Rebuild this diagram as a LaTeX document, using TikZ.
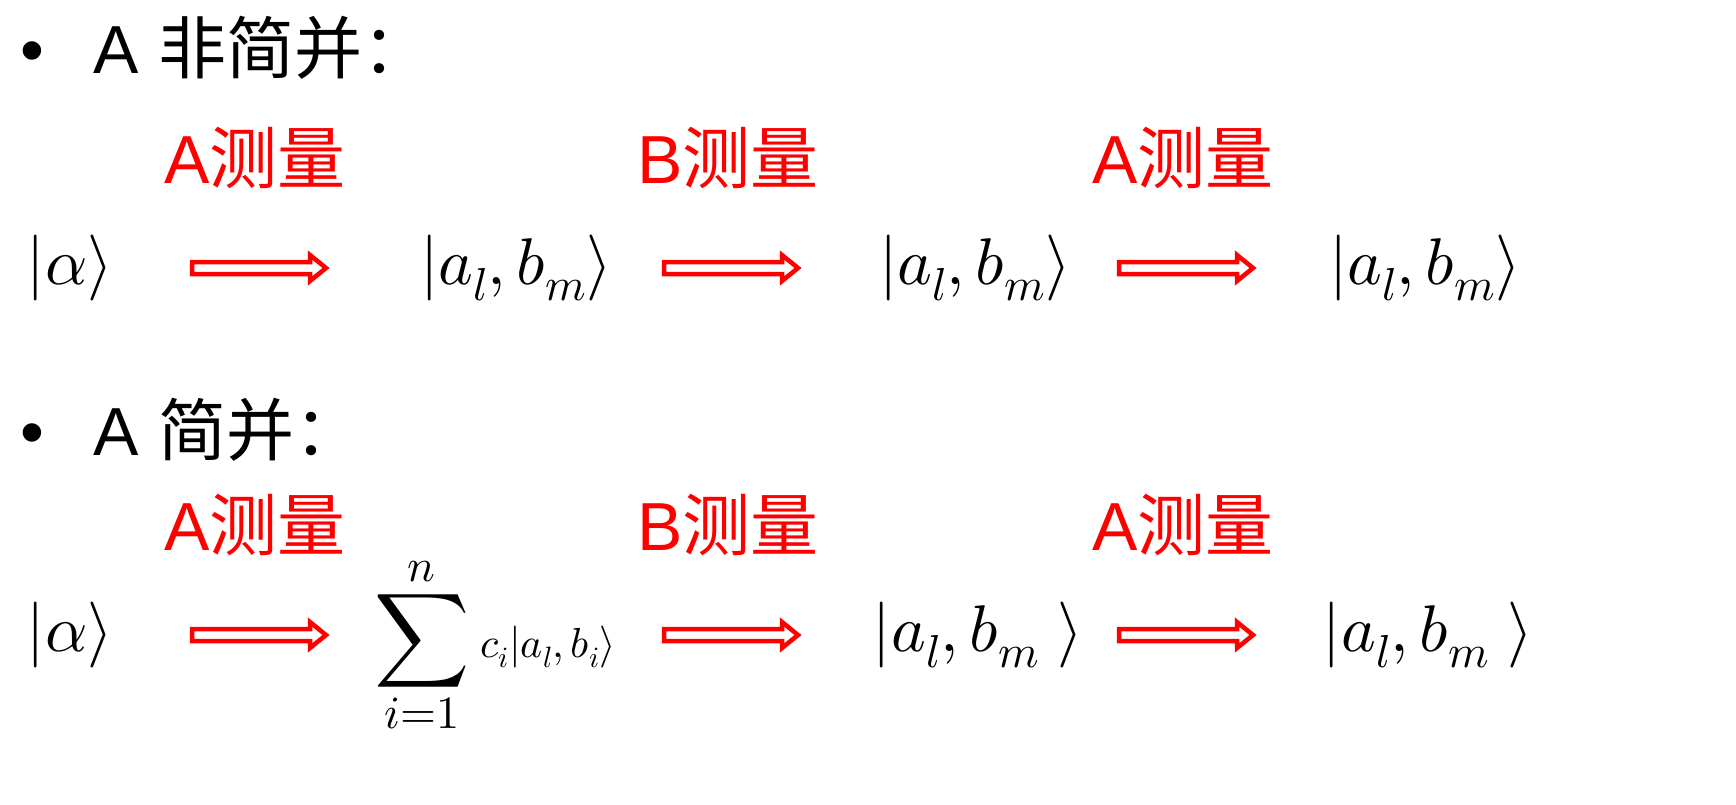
\documentclass[tikz,border=0pt]{standalone}
\usepackage{fontspec}
\usepackage{unicode-math}
\setmathfont{Latin Modern Math}
\setmainfont{Liberation Sans}
\newfontfamily\cjk{Noto Sans CJK SC}
\begin{document}
\begin{tikzpicture}[x=1pt,y=-1pt,
  hd/.style={anchor=west,font=\fontsize{68}{72}\selectfont,inner sep=0},
  lbl/.style={text=red,font=\fontsize{68}{72}\selectfont,inner sep=0},
  ket/.style={font=\fontsize{66}{70}\selectfont,inner sep=0},
  harrow/.style={draw=red,line width=4.5pt,fill=white}]
\useasboundingbox (0,0) rectangle (1736,804);
\newcommand{\harr}[2]{\draw[harrow] (#1,#2-6) -- (#1+118,#2-6) -- (#1+118,#2-13) -- (#1+134,#2) -- (#1+118,#2+13) -- (#1+118,#2+6) -- (#1,#2+6) -- cycle;}
\node[hd] (h1) at (20,48) {•\hspace{50pt}A {\cjk 非简并：}};
\node[hd] (h2) at (20,430) {•\hspace{50pt}A {\cjk 简并：}};
\foreach \y/\r in {158/a,525/b}{
  \node[lbl] (la\r) at (255,\y) {A{\cjk 测量}};
  \node[lbl] (lb\r) at (728,\y) {B{\cjk 测量}};
  \node[lbl] (lc\r) at (1183,\y) {A{\cjk 测量}};
}
\node[ket] (k1) at (70,268) {$|\alpha\rangle$};
\node[ket] (k2) at (516,268) {$|a_l,b_m\rangle$};
\node[ket] (k3) at (975,268) {$|a_l,b_m\rangle$};
\node[ket] (k4) at (1425,268) {$|a_l,b_m\rangle$};
\node[ket] (m1) at (70,635) {$|\alpha\rangle$};
\node[ket] (m2) at (495,645) {$\displaystyle\sum_{i=1}^{n}\mbox{\fontsize{42}{44}\selectfont $c_i|a_l,b_i\rangle$}$};
\node[ket] (m3) at (978,635) {$|a_l,b_m\;\rangle$};
\node[ket] (m4) at (1428,635) {$|a_l,b_m\;\rangle$};
\foreach \y in {268,635}{\harr{192}{\y}\harr{664}{\y}\harr{1119}{\y}}
\end{tikzpicture}
\end{document}
